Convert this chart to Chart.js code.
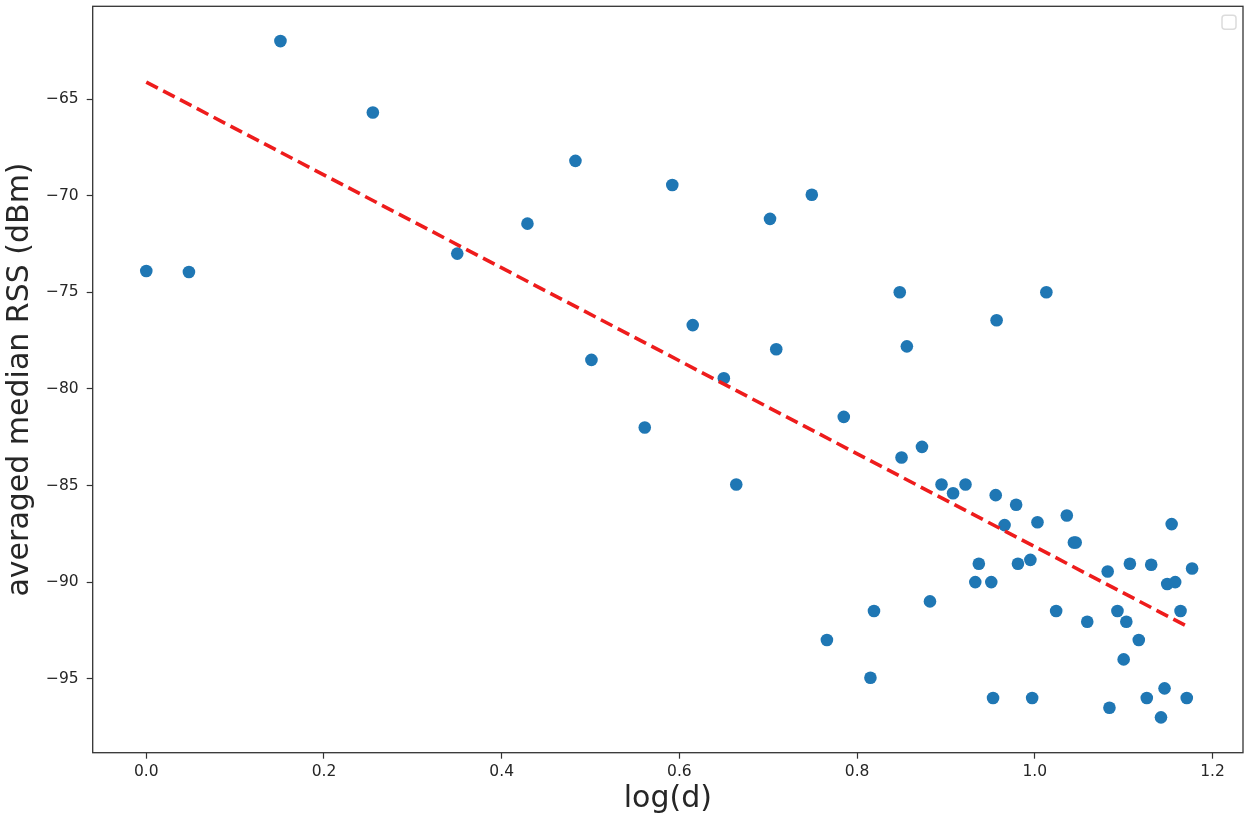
<!DOCTYPE html>
<html>
<head>
<meta charset="utf-8">
<script src="https://cdn.jsdelivr.net/npm/chart.js@4"></script>
<style>
  html, body { margin: 0; padding: 0; background: #fff; }
  canvas { display: block; }
</style>
</head>
<body>
<canvas id="chart" width="1250" height="824"></canvas>
<script>
// measured points: log distance vs averaged median RSS
const logD = [
  0.000, 0.048, 0.151, 0.255, 0.350, 0.429, 0.483, 0.501, 0.561, 0.592,
  0.615, 0.650, 0.664, 0.702, 0.709, 0.749, 0.766, 0.785, 0.815, 0.819,
  0.848, 0.850, 0.856, 0.873, 0.882, 0.895, 0.908, 0.922, 0.933, 0.937,
  0.951, 0.953, 0.956, 0.957, 0.966, 0.979, 0.981, 0.995, 0.997, 1.003,
  1.013, 1.024, 1.036, 1.044, 1.046, 1.059, 1.082, 1.084, 1.093, 1.100,
  1.103, 1.107, 1.117, 1.126, 1.131, 1.142, 1.146, 1.149, 1.154, 1.158,
  1.164, 1.171, 1.177
];
const rss = [
  -73.9, -73.95, -62.0, -65.7, -73.0, -71.45, -68.2, -78.5, -82.0, -69.45,
  -76.7, -79.45, -84.95, -71.2, -77.95, -69.95, -93.0, -81.45, -94.95, -91.5,
  -75.0, -83.55, -77.8, -83.0, -91.0, -84.95, -85.4, -84.95, -90.0, -89.05,
  -90.0, -96.0, -85.5, -76.45, -87.05, -86.0, -89.05, -88.85, -96.0, -86.9,
  -75.0, -91.5, -86.55, -87.95, -87.95, -92.05, -89.45, -96.5, -91.5, -94.0,
  -92.05, -89.05, -93.0, -96.0, -89.1, -97.0, -95.5, -90.1, -87.0, -90.0,
  -91.5, -96.0, -89.3
];

// fitted line end points
const fitX = [0.0, 1.169];
const fitY = [-64.12, -92.23];

const xTicks = [0.0, 0.2, 0.4, 0.6, 0.8, 1.0, 1.2];
const yTicks = [-95, -90, -85, -80, -75, -70, -65];

const textColor = "#262626";
const frameColor = "#333333";

// frame round the plot area and the empty legend box
const framePlugin = {
  id: "frame",
  afterDraw(chart) {
    const { ctx, chartArea: a } = chart;
    ctx.save();
    ctx.strokeStyle = frameColor;
    ctx.lineWidth = 1.3;
    ctx.strokeRect(a.left, a.top, a.right - a.left, a.bottom - a.top);
    ctx.strokeStyle = "#dcdcdc";
    ctx.lineWidth = 1.5;
    ctx.beginPath();
    ctx.roundRect(a.right - 21, a.top + 9, 14, 14, 3);
    ctx.stroke();
    ctx.restore();
  },
};

new Chart(document.getElementById("chart"), {
  type: "scatter",
  data: {
    datasets: [
      {
        label: "fit",
        type: "line",
        data: fitX.map((x, i) => ({ x, y: fitY[i] })),
        borderColor: "#ee1c1c",
        borderWidth: 3.6,
        borderDash: [13, 6],
        pointRadius: 0,
        fill: false,
        order: 0,
      },
      {
        label: "RSS",
        data: logD.map((x, i) => ({ x, y: rss[i] })),
        backgroundColor: "#1f77b4",
        borderWidth: 0,
        pointRadius: 6.3,
        order: 1,
      },
    ],
  },
  options: {
    responsive: false,
    animation: false,
    layout: { padding: { top: 6, right: 7, left: 0, bottom: 0 } },
    plugins: {
      legend: { display: false },
      tooltip: { enabled: false },
    },
    scales: {
      x: {
        type: "linear",
        min: -0.0603,
        max: 1.2343,
        afterFit(scale) {
          scale.height = 71.3;
          scale.paddingLeft = 0;
          scale.paddingRight = 0;
        },
        afterBuildTicks(scale) { scale.ticks = xTicks.map((v) => ({ value: v })); },
        grid: {
          drawOnChartArea: false,
          drawTicks: true,
          tickLength: 6,
          tickColor: frameColor,
          tickWidth: 1.2,
        },
        border: { display: false },
        ticks: {
          color: textColor,
          font: { family: "DejaVu Sans", size: 15.5 },
          padding: 4,
          maxRotation: 0,
          callback: (v) => v.toFixed(1),
        },
        title: {
          display: true,
          text: "log(d)",
          color: textColor,
          font: { family: "DejaVu Sans", size: 30 },
          padding: { top: 0, bottom: 6.5 },
        },
      },
      y: {
        type: "linear",
        min: -98.83,
        max: -60.2,
        afterFit(scale) {
          scale.width = 92.7;
          scale.paddingTop = 0;
          scale.paddingBottom = 0;
        },
        afterBuildTicks(scale) { scale.ticks = yTicks.map((v) => ({ value: v })); },
        grid: {
          drawOnChartArea: false,
          drawTicks: true,
          tickLength: 6,
          tickColor: frameColor,
          tickWidth: 1.2,
        },
        border: { display: false },
        ticks: {
          color: textColor,
          font: { family: "DejaVu Sans", size: 15.5 },
          padding: 8,
          callback: (v) => "\u2212" + Math.abs(v),
        },
        title: {
          display: true,
          text: "averaged median RSS (dBm)",
          color: textColor,
          font: { family: "DejaVu Sans", size: 30 },
          padding: { top: 2, bottom: 0 },
        },
      },
    },
  },
  plugins: [framePlugin],
});
</script>
</body>
</html>
